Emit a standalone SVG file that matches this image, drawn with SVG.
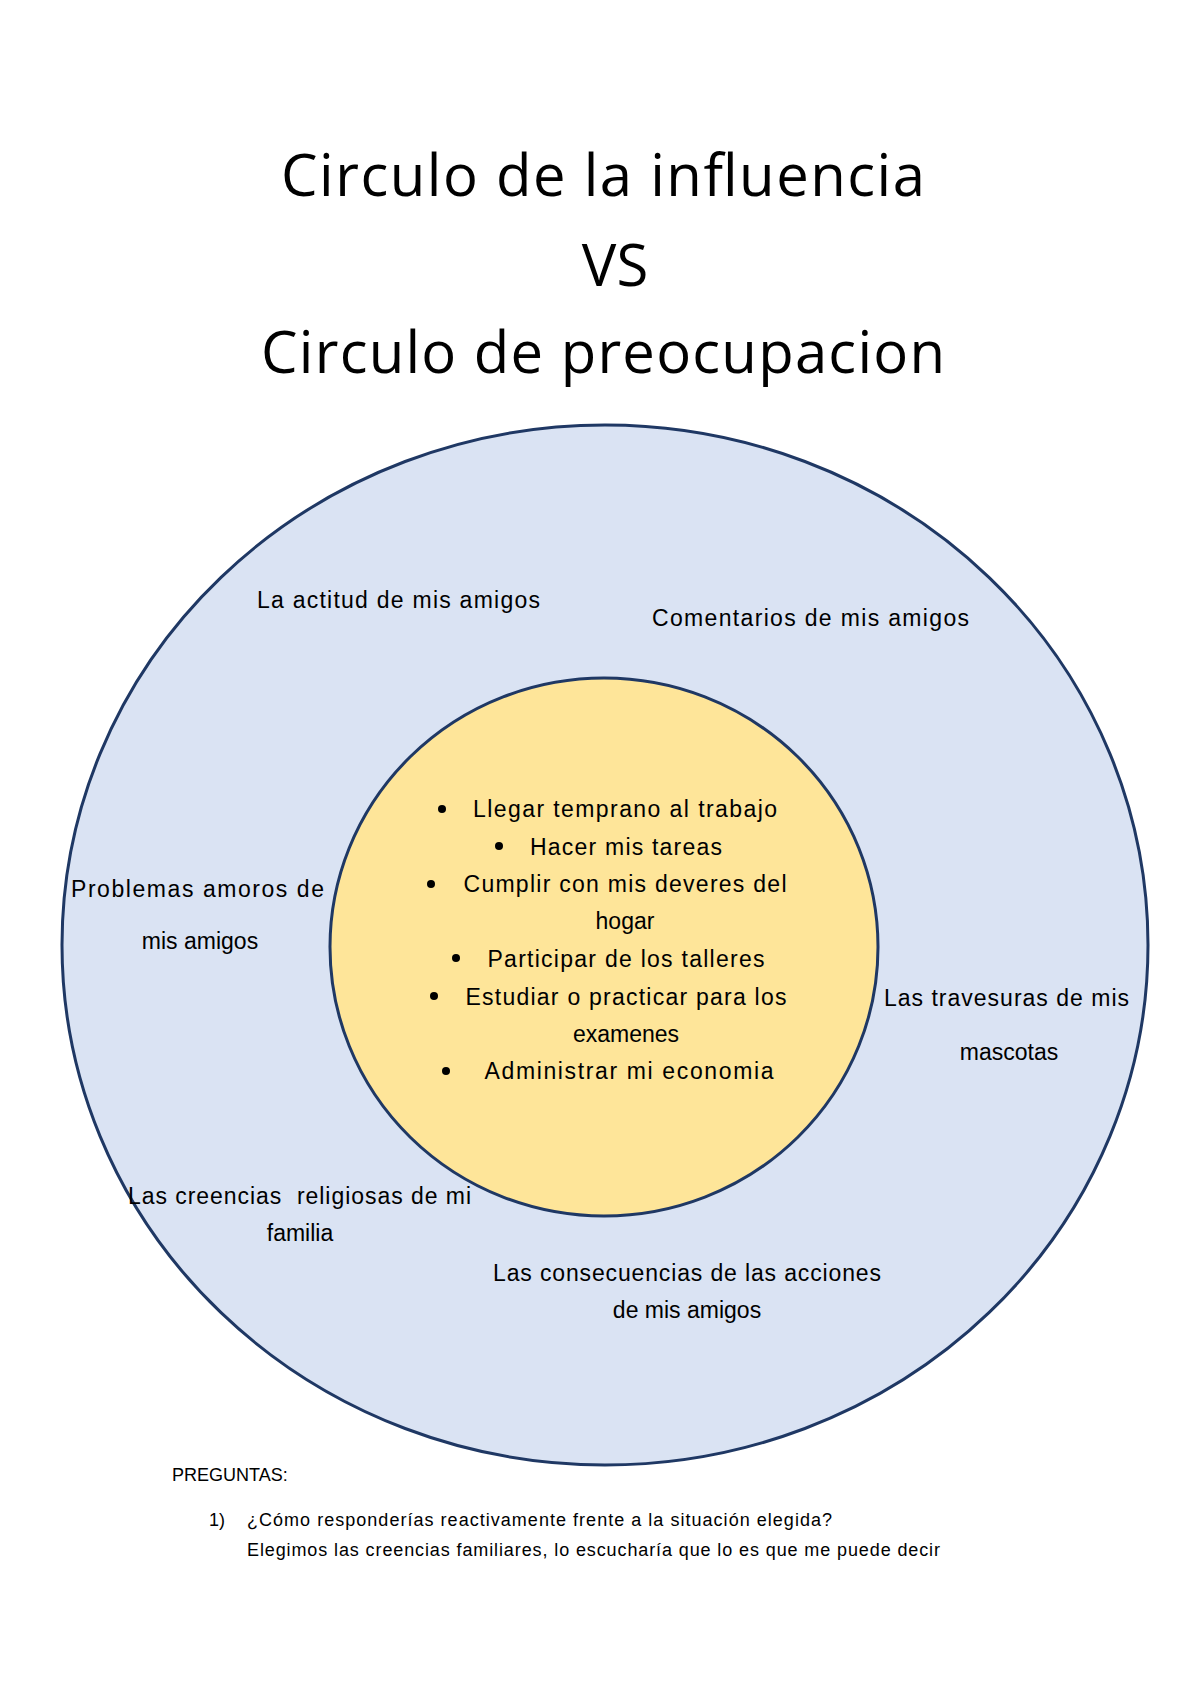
<svg xmlns="http://www.w3.org/2000/svg" width="1200" height="1696" viewBox="0 0 1200 1696">
<style>
.t{font-family:"Open Sans","Liberation Sans",sans-serif;fill:#000}
.title{font-size:58px;text-anchor:middle}
.lab{font-family:"Liberation Sans",sans-serif;font-size:23px;fill:#000}
.c{text-anchor:middle}
.q{font-family:"Liberation Sans",sans-serif;font-size:18px;fill:#000}
.ring{stroke:#1f3864;stroke-width:3}
</style>
<rect width="1200" height="1696" fill="#fff"/>
<g id="title">
<text class="t title" x="603" y="196" textLength="644">Circulo de la influencia</text>
<text class="t title" x="615" y="286">VS</text>
<text class="t title" x="603" y="373" textLength="684">Circulo de preocupacion</text>
</g>
<g id="outer">
<ellipse class="ring" cx="605" cy="945" rx="543" ry="520" fill="#dae3f3"/>
<text class="lab" x="257" y="608" textLength="283">La actitud de mis amigos</text>
<text class="lab" x="652" y="626" textLength="317">Comentarios de mis amigos</text>
<text class="lab" x="71" y="897" textLength="253">Problemas amoros de</text>
<text class="lab c" x="200" y="949">mis amigos</text>
<text class="lab" x="884" y="1006" textLength="245">Las travesuras de mis</text>
<text class="lab c" x="1009" y="1060">mascotas</text>
<text class="lab" x="128" y="1204" textLength="343" xml:space="preserve">Las creencias  religiosas de mi</text>
<text class="lab c" x="300" y="1241">familia</text>
<text class="lab" x="493" y="1281" textLength="388">Las consecuencias de las acciones</text>
<text class="lab c" x="687" y="1318">de mis amigos</text>
</g>
<g id="inner">
<ellipse class="ring" cx="604" cy="947" rx="274" ry="269" fill="#fee599"/>
<g fill="#000">
<circle cx="442" cy="809" r="4"/><circle cx="499" cy="846" r="4"/><circle cx="431" cy="884" r="4"/>
<circle cx="456" cy="958" r="4"/><circle cx="434" cy="996" r="4"/><circle cx="446" cy="1071" r="4"/>
</g>
<text class="lab c" x="625" y="817" textLength="304">Llegar temprano al trabajo</text>
<text class="lab c" x="626" y="855" textLength="192">Hacer mis tareas</text>
<text class="lab c" x="625" y="892" textLength="323">Cumplir con mis deveres del</text>
<text class="lab c" x="625" y="929">hogar</text>
<text class="lab c" x="626" y="967" textLength="277">Participar de los talleres</text>
<text class="lab c" x="626" y="1005" textLength="321">Estudiar o practicar para los</text>
<text class="lab c" x="626" y="1042">examenes</text>
<text class="lab c" x="629" y="1079" textLength="289">Administrar mi economia</text>
</g>
<g id="questions">
<text class="q" x="172" y="1481">PREGUNTAS:</text>
<text class="q" x="209" y="1526">1)</text>
<text class="q" x="247" y="1526" textLength="585">¿Cómo responderías reactivamente frente a la situación elegida?</text>
<text class="q" x="247" y="1556" textLength="693">Elegimos las creencias familiares, lo escucharía que lo es que me puede decir</text>
</g>
</svg>
